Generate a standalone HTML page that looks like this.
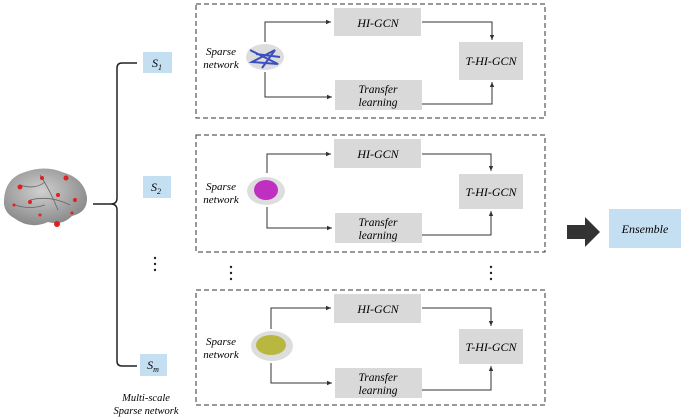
<!DOCTYPE html>
<html><head><style>
body{margin:0;background:#fff;}
svg{display:block;font-family:"Liberation Serif",serif;font-style:italic;}
</style></head><body>
<svg width="685" height="420" viewBox="0 0 685 420" xmlns="http://www.w3.org/2000/svg">
<defs>
<marker id="a" markerWidth="6" markerHeight="6" refX="5" refY="3" orient="auto"><path d="M0,0.8 L5,3 L0,5.2z" fill="#333"/></marker>
<radialGradient id="bg" cx="0.45" cy="0.4" r="0.6"><stop offset="0" stop-color="#d0d0d0"/><stop offset="1" stop-color="#8a8a8a"/></radialGradient>
</defs>
<!-- left brain -->
<path d="M4,200 Q5,178 25,172 Q45,165 62,172 Q84,178 87,197 Q88,212 72,216 Q62,226 48,222 Q30,230 14,218 Q3,212 4,200z" fill="url(#bg)"/>
<g stroke="#666" stroke-width="0.8" fill="none"><path d="M20,185 Q35,190 45,182 M30,200 Q50,195 70,205 M40,175 Q50,190 58,210 M15,205 Q30,210 45,205"/></g>
<g fill="#e02020"><circle cx="20" cy="187" r="2.5"/><circle cx="30" cy="202" r="2"/><circle cx="42" cy="178" r="2"/><circle cx="66" cy="178" r="2.5"/><circle cx="58" cy="195" r="2"/><circle cx="75" cy="200" r="2"/><circle cx="57" cy="224" r="3"/><circle cx="40" cy="215" r="1.5"/><circle cx="72" cy="213" r="1.5"/><circle cx="14" cy="205" r="1.5"/></g>
<!-- brace -->
<path d="M137,63 H122 Q117,63 117,68 V198 Q117,204 111,204 H93 M111,204 Q117,204 117,210 V361 Q117,366 122,366 H137" fill="none" stroke="#222" stroke-width="1.5"/>
<rect x="143" y="52" width="29" height="21" fill="#c5dff2"/>
<text x="157" y="67" font-size="12" text-anchor="middle">S<tspan font-size="8" dy="3">1</tspan></text>
<rect x="143" y="176" width="28" height="22" fill="#c5dff2"/>
<text x="156" y="191" font-size="12" text-anchor="middle">S<tspan font-size="8" dy="3">2</tspan></text>
<rect x="140" y="354" width="27" height="22" fill="#c5dff2"/>
<text x="153" y="369" font-size="12" text-anchor="middle">S<tspan font-size="8" dy="3">m</tspan></text>
<g fill="#222"><circle cx="155" cy="258" r="1.2"/><circle cx="155" cy="264" r="1.2"/><circle cx="155" cy="270" r="1.2"/>
<circle cx="231" cy="267" r="1.2"/><circle cx="231" cy="273" r="1.2"/><circle cx="231" cy="279" r="1.2"/>
<circle cx="491" cy="267" r="1.2"/><circle cx="491" cy="273" r="1.2"/><circle cx="491" cy="279" r="1.2"/></g>
<text x="146" y="401" font-size="10.5" text-anchor="middle">Multi-scale</text>
<text x="146" y="414" font-size="10.5" text-anchor="middle">Sparse network</text>

<g>
<rect x="196" y="4" width="349" height="114" fill="none" stroke="#333" stroke-dasharray="5,3"/>
<rect x="334" y="8" width="87" height="28" fill="#d9d9d9"/>
<text x="378" y="27" font-size="12" text-anchor="middle">HI-GCN</text>
<rect x="459" y="42" width="64" height="38" fill="#d9d9d9"/>
<text x="491" y="65" font-size="12" text-anchor="middle">T-HI-GCN</text>
<rect x="335" y="80" width="87" height="30" fill="#d9d9d9"/>
<text x="378" y="93" font-size="11.5" text-anchor="middle">Transfer</text>
<text x="378" y="106" font-size="11.5" text-anchor="middle">learning</text>
<text x="221" y="55" font-size="11" text-anchor="middle">Sparse</text>
<text x="221" y="68" font-size="11" text-anchor="middle">network</text>
<ellipse cx="265" cy="57" rx="19" ry="13" fill="#ddd"/>
<path d="M250,50 L278,64 L252,62 L275,50 L262,68 M256,54 L280,57" stroke="#3b4fc0" stroke-width="2" fill="none"/>
<path d="M265,42 V22 H331" fill="none" stroke="#333" marker-end="url(#a)"/>
<path d="M265,72 V97 H332" fill="none" stroke="#333" marker-end="url(#a)"/>
<path d="M422,22 H492 V40" fill="none" stroke="#333" marker-end="url(#a)"/>
<path d="M422,104 H492 V82" fill="none" stroke="#333" marker-end="url(#a)"/>
</g>
<g>
<rect x="196" y="135" width="349" height="117" fill="none" stroke="#333" stroke-dasharray="5,3"/>
<rect x="334" y="139" width="87" height="29" fill="#d9d9d9"/>
<text x="378" y="158" font-size="12" text-anchor="middle">HI-GCN</text>
<rect x="459" y="174" width="64" height="35" fill="#d9d9d9"/>
<text x="491" y="196" font-size="12" text-anchor="middle">T-HI-GCN</text>
<rect x="335" y="213" width="87" height="30" fill="#d9d9d9"/>
<text x="378" y="226" font-size="11.5" text-anchor="middle">Transfer</text>
<text x="378" y="239" font-size="11.5" text-anchor="middle">learning</text>
<text x="221" y="190" font-size="11" text-anchor="middle">Sparse</text>
<text x="221" y="203" font-size="11" text-anchor="middle">network</text>
<ellipse cx="266" cy="191" rx="19" ry="14" fill="#ddd"/>
<ellipse cx="266" cy="190" rx="12" ry="10" fill="#c030c0"/>
<path d="M267,173 V154 H331" fill="none" stroke="#333" marker-end="url(#a)"/>
<path d="M267,207 V228 H332" fill="none" stroke="#333" marker-end="url(#a)"/>
<path d="M422,154 H491 V171" fill="none" stroke="#333" marker-end="url(#a)"/>
<path d="M422,235 H491 V211" fill="none" stroke="#333" marker-end="url(#a)"/>
</g>
<g>
<rect x="196" y="290" width="349" height="115" fill="none" stroke="#333" stroke-dasharray="5,3"/>
<rect x="334" y="294" width="87" height="29" fill="#d9d9d9"/>
<text x="378" y="313" font-size="12" text-anchor="middle">HI-GCN</text>
<rect x="459" y="329" width="64" height="35" fill="#d9d9d9"/>
<text x="491" y="351" font-size="12" text-anchor="middle">T-HI-GCN</text>
<rect x="335" y="368" width="87" height="30" fill="#d9d9d9"/>
<text x="378" y="381" font-size="11.5" text-anchor="middle">Transfer</text>
<text x="378" y="394" font-size="11.5" text-anchor="middle">learning</text>
<text x="221" y="345" font-size="11" text-anchor="middle">Sparse</text>
<text x="221" y="358" font-size="11" text-anchor="middle">network</text>
<ellipse cx="272" cy="346" rx="21" ry="15" fill="#ddd"/>
<ellipse cx="271" cy="345" rx="15" ry="10" fill="#b8b840"/>
<path d="M271,329 V308 H331" fill="none" stroke="#333" marker-end="url(#a)"/>
<path d="M271,363 V383 H332" fill="none" stroke="#333" marker-end="url(#a)"/>
<path d="M422,308 H491 V326" fill="none" stroke="#333" marker-end="url(#a)"/>
<path d="M422,390 H491 V366" fill="none" stroke="#333" marker-end="url(#a)"/>
</g>
<!-- ensemble -->
<path d="M567,225 H585 V217 L600,232 L585,247 V239 H567z" fill="#333"/>
<rect x="609" y="209" width="72" height="39" fill="#c5dff2"/>
<text x="645" y="233" font-size="12" text-anchor="middle">Ensemble</text>
</svg>
</body></html>
